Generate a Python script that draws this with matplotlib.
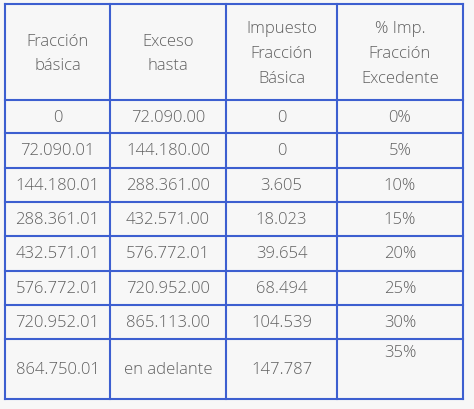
import matplotlib
matplotlib.use("Agg")
import matplotlib.pyplot as plt

headers = ["Fracción\nbásica", "Exceso\nhasta", "Impuesto\nFracción\nBásica", "% Imp.\nFracción\nExcedente"]
fraccion_basica = ["0", "72.090.01", "144.180.01", "288.361.01", "432.571.01", "576.772.01", "720.952.01", "864.750.01"]
exceso_hasta = ["72.090.00", "144.180.00", "288.361.00", "432.571.00", "576.772.01", "720.952.00", "865.113.00", "en adelante"]
impuesto = ["0", "0", "3.605", "18.023", "39.654", "68.494", "104.539", "147.787"]
porcentaje = ["0%", "5%", "10%", "15%", "20%", "25%", "30%", "35%"]

W, H = 474, 410
fig = plt.figure(figsize=(W/100, H/100), dpi=100)
fig.patch.set_facecolor("#f7f7f7")
ax = fig.add_axes([0, 0, 1, 1])
ax.set_xlim(0, W); ax.set_ylim(H, 0); ax.axis("off")

xs = [5, 110, 226, 337, 463]
ys = [5, 101, 134, 169, 203, 237, 272, 306, 340, 400]
blue = "#3d5fd0"
txt = "#606060"
font = "Open Sans"

for x in xs:
    ax.plot([x, x], [ys[0], ys[-1]], color=blue, lw=1.5)
for y in ys:
    ax.plot([xs[0], xs[-1]], [y, y], color=blue, lw=1.5)

for j, h in enumerate(headers):
    cx = (xs[j] + xs[j+1]) / 2
    ax.text(cx, (ys[0] + ys[1]) / 2 + 1, h, ha="center", va="center", fontsize=12,
            color=txt, family=font, weight="light", linespacing=1.75)

cols = [fraccion_basica, exceso_hasta, impuesto, porcentaje]
for i in range(8):
    for j, col in enumerate(cols):
        cx = (xs[j] + xs[j+1]) / 2
        cy = (ys[i+1] + ys[i+2]) / 2
        if i == 7 and j == 3:
            cy = ys[i+1] + 13
        ax.text(cx, cy, col[i], ha="center", va="center", fontsize=12, color=txt,
                family=font, weight="light")

fig.savefig("out.png", dpi=100, facecolor=fig.get_facecolor())
